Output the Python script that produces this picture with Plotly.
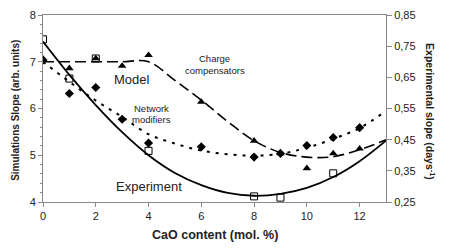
import plotly.graph_objects as go

# Data
x_int = list(range(0, 14))

# Model - charge compensators (triangles), left axis
cc_x = [0, 1, 2, 3, 4, 6, 8, 9, 10, 11, 12]
cc_y = [7.05, 6.86, 7.07, 6.91, 7.14, 6.14, 5.31, 5.04, 4.72, 5.04, 5.14]
cc_line = [7.0, 7.0, 7.0, 7.0, 7.0, 6.6, 6.18, 5.72, 5.31, 5.06, 4.96, 4.97, 5.12, 5.33]

# Model - network modifiers (diamonds), left axis
nm_x = [0, 1, 2, 3, 4, 6, 8, 9, 10, 11, 12]
nm_y = [7.04, 6.32, 6.45, 5.77, 5.26, 5.18, 4.96, 5.04, 5.21, 5.38, 5.59]
nm_line = [7.0, 6.57, 6.17, 5.82, 5.45, 5.25, 5.1, 5.02, 4.99, 5.03, 5.16, 5.35, 5.58, 5.95]

# Experiment (open squares), right axis (days^-1)
ex_x = [0, 1, 2, 4, 8, 9, 11]
ex_y = [0.772, 0.646, 0.7105, 0.414, 0.268, 0.264, 0.342]
ex_line = [0.765, 0.658, 0.561, 0.474, 0.400, 0.343, 0.304, 0.279, 0.270, 0.276, 0.295, 0.330, 0.381, 0.447]

y2_vals = [0.25, 0.35, 0.45, 0.55, 0.65, 0.75, 0.85]
y2_text = ["0,25", "0,35", "0,45", "0,55", "0,65", "0,75", "0,85"]

FONT = "Liberation Sans, Arial, sans-serif"

fig = go.Figure()
fig.add_trace(go.Scatter(x=x_int, y=cc_line, mode="lines", line=dict(color="black", width=1.6, dash="11px,5px"),
                         line_shape="spline", showlegend=False))
fig.add_trace(go.Scatter(x=x_int, y=nm_line, mode="lines", line=dict(color="black", width=2, dash="3px,6px"),
                         line_shape="spline", showlegend=False))
fig.add_trace(go.Scatter(x=x_int, y=ex_line, mode="lines", line=dict(color="black", width=1.8),
                         line_shape="spline", yaxis="y2", showlegend=False))
fig.add_trace(go.Scatter(x=cc_x, y=cc_y, mode="markers", marker=dict(symbol="triangle-up", size=7.5, color="black"),
                         showlegend=False))
fig.add_trace(go.Scatter(x=nm_x, y=nm_y, mode="markers", marker=dict(symbol="diamond", size=7, color="black"),
                         showlegend=False))
fig.add_trace(go.Scatter(x=ex_x, y=ex_y, mode="markers", yaxis="y2",
                         marker=dict(symbol="square-open", size=7, color="black", line=dict(width=1)),
                         showlegend=False))

L, R, T, B = 43.3, 386.0, 15.0, 201.7


def px(xp, yp):
    return (xp - L) / (R - L), 1 - (yp - T) / (B - T)


ann = [
    dict(x=215, y=58, text="Charge", size=9.5, angle=0),
    dict(x=215, y=70, text="compensators", size=9.5, angle=0),
    dict(x=132, y=79, text="Model", size=13, angle=0),
    dict(x=152, y=108, text="Network", size=9.5, angle=0),
    dict(x=152, y=119, text="modifiers", size=9.5, angle=0),
    dict(x=149, y=186, text="Experiment", size=13, angle=0),
    dict(x=215, y=235, text="<b>CaO content (mol. %)</b>", size=12.5, angle=0),
    dict(x=15, y=110, text="<b>Simulations Slope (arb. units)</b>", size=10, angle=-90),
    dict(x=431, y=111, text="<b>Experimental slope (days<sup>-1</sup>)</b>", size=10.5, angle=90),
]
annotations = []
for a in ann:
    ax, ay = px(a["x"], a["y"])
    annotations.append(dict(
        xref="paper", yref="paper", x=ax, y=ay, textangle=a["angle"],
        text=a["text"], showarrow=False, xanchor="center", yanchor="middle",
        font=dict(family=FONT, size=a["size"], color="#222")))

fig.update_layout(
    width=474, height=248,
    margin=dict(l=43, r=88, t=15, b=46),
    paper_bgcolor="white", plot_bgcolor="white",
    font=dict(family=FONT, size=11, color="#222"),
    annotations=annotations,
    xaxis=dict(range=[0, 13], tickvals=[0, 2, 4, 6, 8, 10, 12], showgrid=False, zeroline=False,
               showline=True, linecolor="#888", linewidth=1, mirror=True, automargin=False,
               ticks="outside", ticklen=4, tickcolor="#888"),
    yaxis=dict(range=[4, 8], tickvals=[4, 5, 6, 7, 8], showgrid=False, zeroline=False,
               showline=True, linecolor="#888", linewidth=1, automargin=False,
               ticks="outside", ticklen=4, tickcolor="#888",
               minor=dict(ticks="outside", ticklen=2, dtick=0.2, tickcolor="#888")),
    yaxis2=dict(range=[0.25, 0.85], overlaying="y", side="right", tickvals=y2_vals, ticktext=y2_text,
                showgrid=False, zeroline=False, showline=True, linecolor="#888", linewidth=1, automargin=False,
                ticks="outside", ticklen=5, tickcolor="#888"),
)

fig.write_html("out.html")
